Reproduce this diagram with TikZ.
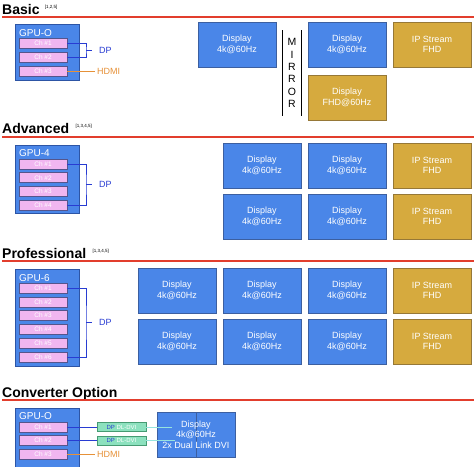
\documentclass[tikz,border=0pt]{standalone}
\usepackage{fontspec}
\setmainfont{Liberation Sans}
\usetikzlibrary{positioning, calc}
\definecolor{dispblue}{RGB}{74, 134, 232}
\definecolor{dispedge}{RGB}{60, 95, 160}
\definecolor{gpuedge}{RGB}{45, 85, 165}
\definecolor{chpink}{RGB}{240, 182, 240}
\definecolor{chedge}{RGB}{85, 85, 140}
\definecolor{ipgold}{RGB}{214, 170, 62}
\definecolor{ipedge}{RGB}{150, 120, 55}
\definecolor{dpblue}{RGB}{40, 60, 210}
\definecolor{hdmiorange}{RGB}{230, 145, 56}
\definecolor{ruled}{RGB}{226, 62, 45}
\definecolor{dvimint}{RGB}{140, 225, 190}
\definecolor{dviedge}{RGB}{70, 155, 115}
\definecolor{dvicyan}{RGB}{150, 228, 222}
\tikzset{
  sectnode/.style={anchor=base west, inner sep=0pt, font=\fontsize{14}{14}\selectfont\bfseries},
  refnote/.style={anchor=base west, inner sep=0pt, font=\fontsize{4.5}{5}\selectfont},
  gpubox/.style={draw=gpuedge, fill=dispblue, line width=0.7pt, minimum width=64pt, anchor=north west, inner sep=0pt, outer sep=0pt},
  gpulabel/.style={anchor=base west, inner sep=0pt, text=white, font=\fontsize{10}{10}\selectfont},
  chbox/.style={draw=chedge, fill=chpink, text=white, line width=0.5pt, minimum width=48pt, minimum height=10pt, inner sep=0pt, outer sep=0pt, anchor=north west, font=\fontsize{6.5}{7}\selectfont},
  tilebox/.style={minimum width=78pt, minimum height=45pt, inner sep=0pt, outer sep=0pt, align=center, text=white, line width=0.5pt, font=\fontsize{9}{10.5}\selectfont},
  dispnode/.style={tilebox, fill=dispblue, draw=dispedge},
  ipnode/.style={tilebox, fill=ipgold, draw=ipedge},
  splitdisp/.style={dispnode, path picture={\draw[dispedge, line width=0.6pt]
      (path picture bounding box.north) -- (path picture bounding box.south);}},
  dvibox/.style={draw=dviedge, fill=dvimint, line width=0.5pt, minimum width=49pt, minimum height=9pt, inner sep=0pt, outer sep=0pt, anchor=west, font=\fontsize{6}{6}\selectfont},
  portlab/.style={anchor=west, inner sep=2pt, font=\fontsize{9}{9}\selectfont},
  dpline/.style={dpblue, line width=0.9pt},
  hdmiline/.style={hdmiorange, line width=0.9pt},
  dviline/.style={dvicyan, line width=0.9pt},
  sectrule/.style={ruled, line width=1.3pt},
}

\begin{document}
\begin{tikzpicture}[x=1pt, y=-1pt, node distance=6pt and 7pt]
  \useasboundingbox (0,0) rectangle (474,466);
  % Basic
  \node[sectnode] (tb) at (2,14) {Basic};
  \node[refnote] (nb) at ([xshift=5pt, yshift=6pt]tb.base east) {[1,2,5]};
  \draw[sectrule] (2,17) -- (474,17);
  \node[gpubox, minimum height=56pt] (gb) at (15,24) {};
  \node[gpulabel] (gbl) at (19,36) {GPU-O};
  \foreach \i in {1,2,3} \node[chbox] (b\i) at (19,{38+14*(\i-1)}) {Ch \#\i};
  \coordinate (brb) at ($(b1.east)!0.5!(b2.east)+(19pt,0)$);
  \draw[dpline] (b1.east) -| (brb) |- (b2.east);
  \node[portlab, text=dpblue, right=11pt of brb] (dpb) {DP};
  \draw[dpline, shorten >=5pt] (brb) -- (dpb.west);
  \node[portlab, text=hdmiorange, right=28pt of b3.east] (hdb) {HDMI};
  \draw[hdmiline] (b3.east) -- (hdb.west);
  \node[dispnode, anchor=north west] (bd1) at (198,22) {Display\\4k@60Hz};
  \node[minimum width=18pt, minimum height=85pt, inner sep=0pt, align=center,
        font=\fontsize{10.5}{12.4}\selectfont] (mir) at (292,73) {M\\I\\R\\R\\O\\R};
  \draw[line width=0.8pt] (mir.north west) -- (mir.south west);
  \draw[line width=0.8pt] (mir.north east) -- (mir.south east);
  \node[dispnode, anchor=north west] (bd2) at (308,22) {Display\\4k@60Hz};
  \node[ipnode, right=of bd2] (bip) {IP Stream\\FHD};
  \node[ipnode, below=8pt of bd2] (bfhd) {Display\\FHD@60Hz};

  % Advanced
  \node[sectnode] (ta) at (2,133) {Advanced};
  \node[refnote] (na) at ([xshift=6pt, yshift=6pt]ta.base east) {[1,3,4,5]};
  \draw[sectrule] (2,137) -- (474,137);
  \node[gpubox, minimum height=68pt] (ga) at (15,145) {};
  \node[gpulabel] (gal) at (19,156) {GPU-4};
  \foreach \i in {1,...,4} \node[chbox] (a\i) at (19,{159+13.7*(\i-1)}) {Ch \#\i};
  \coordinate (bra) at ($(a1.east)!0.5!(a4.east)+(19pt,0)$);
  \draw[dpline] (a1.east) -| (bra) |- (a4.east);
  \node[portlab, text=dpblue, right=11pt of bra] (dpa) {DP};
  \draw[dpline, shorten >=5pt] (bra) -- (dpa.west);
  \node[dispnode, anchor=north west] (ad1) at (223,143) {Display\\4k@60Hz};
  \node[dispnode, right=of ad1] (ad2) {Display\\4k@60Hz};
  \node[ipnode, right=of ad2] (aip1) {IP Stream\\FHD};
  \node[dispnode, below=of ad1] (ad3) {Display\\4k@60Hz};
  \node[dispnode, right=of ad3] (ad4) {Display\\4k@60Hz};
  \node[ipnode, right=of ad4] (aip2) {IP Stream\\FHD};

  % Professional
  \node[sectnode] (tp) at (2,258) {Professional};
  \node[refnote] (np) at ([xshift=6pt, yshift=6pt]tp.base east) {[1,3,4,5]};
  \draw[sectrule] (2,261) -- (474,261);
  \node[gpubox, minimum height=97pt] (gp) at (15,269) {};
  \node[gpulabel] (gpl) at (19,281) {GPU-6};
  \foreach \i in {1,...,6} \node[chbox] (p\i) at (19,{283+13.8*(\i-1)}) {Ch \#\i};
  \coordinate (brp) at ($(p1.east)!0.5!(p6.east)+(19pt,0)$);
  \draw[dpline] (p1.east) -| (brp) |- (p6.east);
  \node[portlab, text=dpblue, right=11pt of brp] (dpp) {DP};
  \draw[dpline, shorten >=5pt] (brp) -- (dpp.west);
  \node[dispnode, anchor=north west] (pd1) at (138,268) {Display\\4k@60Hz};
  \node[dispnode, right=of pd1] (pd2) {Display\\4k@60Hz};
  \node[dispnode, right=of pd2] (pd3) {Display\\4k@60Hz};
  \node[ipnode, right=of pd3] (pip1) {IP Stream\\FHD};
  \node[dispnode, below=of pd1] (pd4) {Display\\4k@60Hz};
  \node[dispnode, right=of pd4] (pd5) {Display\\4k@60Hz};
  \node[dispnode, right=of pd5] (pd6) {Display\\4k@60Hz};
  \node[ipnode, right=of pd6] (pip2) {IP Stream\\FHD};

  % Converter Option
  \node[sectnode] (tc) at (2,397) {Converter Option};
  \draw[sectrule] (2,400) -- (474,400);
  \node[gpubox, minimum height=60pt] (gc) at (15,408) {};
  \node[gpulabel] (gcl) at (19,419) {GPU-O};
  \foreach \i in {1,2,3} \node[chbox] (c\i) at (19,{422+13.6*(\i-1)}) {Ch \#\i};
  \node[dvibox] (dv1) at ([xshift=30pt]c1.east) {\textcolor{dpblue}{DP} \textcolor{white}{DL-DVI}};
  \node[dvibox] (dv2) at ([xshift=30pt]c2.east) {\textcolor{dpblue}{DP} \textcolor{white}{DL-DVI}};
  \draw[dpline] (c1.east) -- (dv1.west);
  \draw[dpline] (c2.east) -- (dv2.west);
  \node[portlab, text=hdmiorange, right=28pt of c3.east] (hdc) {HDMI};
  \draw[hdmiline] (c3.east) -- (hdc.west);
  \node[splitdisp, anchor=north west] (cv) at (157,412) {Display\\4k@60Hz\\2x Dual Link DVI};
  \draw[dviline] (dv1.east) -- ([xshift=15pt]dv1.east -| cv.west);
  \draw[dviline] (dv2.east) -- ([xshift=18pt]dv2.east -| cv.west);
\end{tikzpicture}
\end{document}
